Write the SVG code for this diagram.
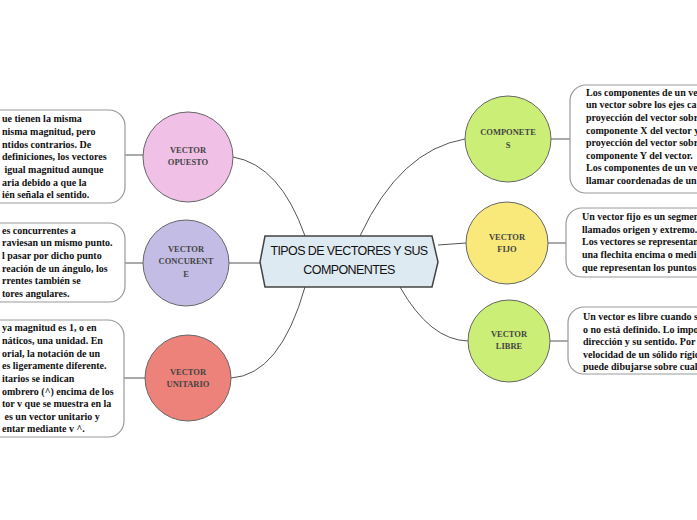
<svg xmlns="http://www.w3.org/2000/svg" width="697" height="520" viewBox="0 0 697 520">
<style>
.c{stroke:#666;stroke-width:1}
.b{fill:#fff;stroke:#999;stroke-width:1.2}
.l{fill:none;stroke:#555;stroke-width:1}
.t{font-family:"Liberation Serif",serif;font-weight:bold;font-size:10px;fill:#111}
.n{font-family:"Liberation Serif",serif;font-weight:bold;font-size:8.5px;fill:#444;text-anchor:middle}
.h{font-family:"Liberation Sans Narrow","Liberation Sans",sans-serif;font-size:12.5px;text-anchor:middle;fill:#111;letter-spacing:-0.6px}
</style>
<rect width="697" height="520" fill="#fff"/>
<g id="connectors">
<path class="l" d="M125 155 H143"/><path class="l" d="M125 263 H143"/><path class="l" d="M124 378 H145"/>
<path class="l" d="M233 157 Q280 165 305 236"/>
<path class="l" d="M229 263 H260"/>
<path class="l" d="M231 378 Q280 375 305 287"/>
<path class="l" d="M360 236 Q400 150 465 139"/>
<path class="l" d="M438 245 L466 243"/>
<path class="l" d="M400 287 Q430 340 468 341"/>
<path class="l" d="M551 139 H570"/><path class="l" d="M548 243 H566"/><path class="l" d="M550 341 H568"/>
</g>
<g id="center">
<path d="M265 236 H432 L438 262 L432 287 H265 L260 262 Z" fill="#deeaf1" stroke="#444" stroke-width="1.5"/>
<text class="h" x="349" y="255">TIPOS DE VECTORES Y SUS</text>
<text class="h" x="349" y="274">COMPONENTES</text>
</g>
<g id="opuesto">
<circle class="c" cx="188" cy="157" r="45" fill="#f0c0e6"/>
<text class="n" x="188" y="153">VECTOR</text><text class="n" x="188" y="165">OPUESTO</text>
<rect class="b" x="-20" y="110" width="145" height="93" rx="16"/>
<text class="t"><tspan x="2" y="122">ue tienen la misma</tspan><tspan x="2" y="135">nisma magnitud, pero</tspan><tspan x="2" y="148">ntidos contrarios. De</tspan><tspan x="2" y="160">definiciones, los vectores</tspan><tspan x="2" y="173"> igual magnitud aunque</tspan><tspan x="2" y="186">aria debido a que la</tspan><tspan x="2" y="198">ién señala el sentido.</tspan></text>
</g>
<g id="concurrente">
<circle class="c" cx="186" cy="263" r="43" fill="#c3bde6"/>
<text class="n" x="186" y="252">VECTOR</text><text class="n" x="186" y="264">CONCURENT</text><text class="n" x="186" y="277">E</text>
<rect class="b" x="-20" y="223" width="145" height="79" rx="16"/>
<text class="t"><tspan x="2" y="234">es concurrentes a</tspan><tspan x="2" y="246">raviesan un mismo punto.</tspan><tspan x="2" y="259">l pasar por dicho punto</tspan><tspan x="2" y="272">reación de un ángulo, los</tspan><tspan x="2" y="284">rrentes también se</tspan><tspan x="2" y="297">tores angulares.</tspan></text>
</g>
<g id="unitario">
<circle class="c" cx="188" cy="378" r="43" fill="#ec8279"/>
<text class="n" x="188" y="375">VECTOR</text><text class="n" x="188" y="387">UNITARIO</text>
<rect class="b" x="-20" y="320" width="144" height="117" rx="16"/>
<text class="t"><tspan x="2" y="331">ya magnitud es 1, o en</tspan><tspan x="2" y="344">náticos, una unidad. En</tspan><tspan x="2" y="357">orial, la notación de un</tspan><tspan x="2" y="369">es ligeramente diferente.</tspan><tspan x="2" y="382">itarios se indican</tspan><tspan x="2" y="395">ombrero (^) encima de los</tspan><tspan x="2" y="407">tor v que se muestra en la</tspan><tspan x="2" y="420"> es un vector unitario y</tspan><tspan x="2" y="432">entar mediante v ^.</tspan></text>
</g>
<g id="componetes">
<circle class="c" cx="508" cy="139" r="43" fill="#cbee76"/>
<text class="n" x="508" y="135">COMPONETE</text><text class="n" x="508" y="148">S</text>
<rect class="b" x="570" y="85" width="150" height="108" rx="16"/>
<text class="t"><tspan x="586" y="96">Los componentes de un ve</tspan><tspan x="586" y="108">un vector sobre los ejes ca</tspan><tspan x="586" y="121">proyección del vector sobr</tspan><tspan x="586" y="134">componente X del vector y</tspan><tspan x="586" y="146">proyección del vector sobr</tspan><tspan x="586" y="159">componente Y del vector.</tspan><tspan x="586" y="171">Los componentes de un ve</tspan><tspan x="586" y="184">llamar coordenadas de un</tspan></text>
</g>
<g id="fijo">
<circle class="c" cx="507" cy="243" r="41" fill="#f9e87a"/>
<text class="n" x="507" y="240">VECTOR</text><text class="n" x="507" y="252">FIJO</text>
<rect class="b" x="566" y="208" width="150" height="69" rx="16"/>
<text class="t"><tspan x="582" y="220">Un vector fijo es un segmen</tspan><tspan x="582" y="233">llamados origen y extremo.</tspan><tspan x="582" y="245">Los vectores se representan</tspan><tspan x="582" y="258">una flechita encima o medi</tspan><tspan x="582" y="271">que representan los puntos</tspan></text>
</g>
<g id="libre">
<circle class="c" cx="509" cy="341" r="41" fill="#cbee76"/>
<text class="n" x="509" y="337">VECTOR</text><text class="n" x="509" y="349">LIBRE</text>
<rect class="b" x="568" y="307" width="150" height="67" rx="16"/>
<text class="t"><tspan x="583" y="320">Un vector es libre cuando s</tspan><tspan x="583" y="333">o no está definido. Lo impo</tspan><tspan x="583" y="345">dirección y su sentido. Por</tspan><tspan x="583" y="358">velocidad de un sólido rígic</tspan><tspan x="583" y="370">puede dibujarse sobre cual</tspan></text>
</g>
</svg>
